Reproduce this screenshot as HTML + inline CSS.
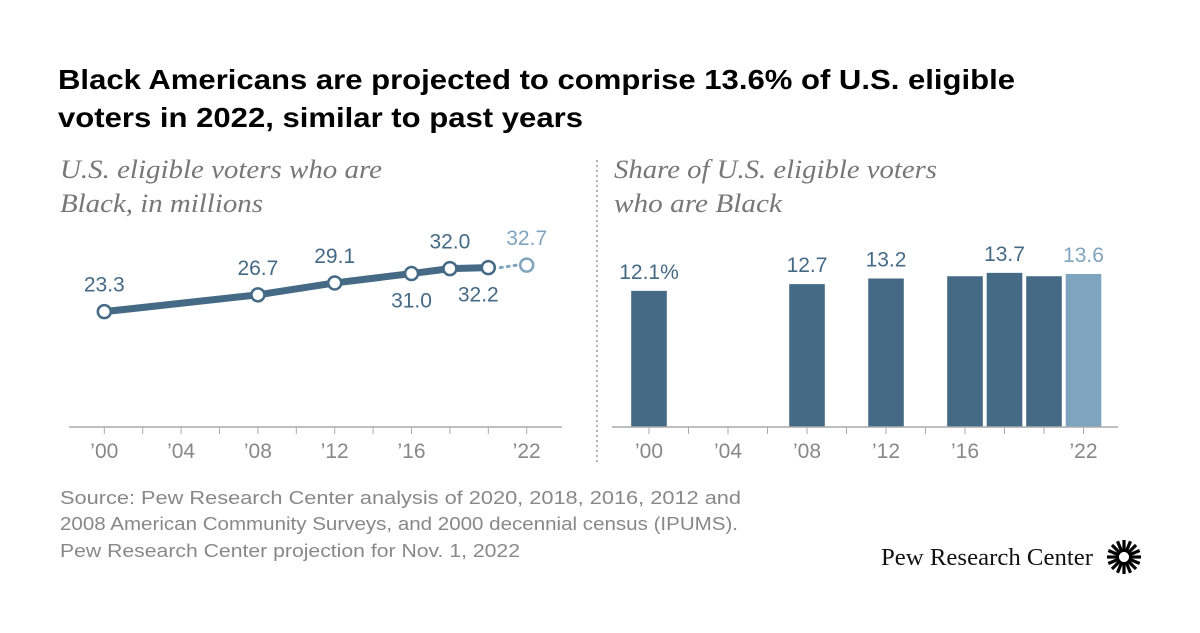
<!DOCTYPE html>
<html><head><meta charset="utf-8"><style>
body{margin:0;background:#fff;width:1200px;height:628px;overflow:hidden;font-family:"Liberation Sans",sans-serif}
</style></head><body>
<svg width="1200" height="628" xmlns="http://www.w3.org/2000/svg">
<g lengthAdjust="spacingAndGlyphs">
<text x="58" y="89" font-size="28" font-weight="bold" fill="#000" textLength="957" lengthAdjust="spacingAndGlyphs">Black Americans are projected to comprise 13.6% of U.S. eligible</text>
<text x="58" y="127" font-size="28" font-weight="bold" fill="#000" textLength="525" lengthAdjust="spacingAndGlyphs">voters in 2022, similar to past years</text>
</g>
<g font-family="Liberation Serif,serif" font-style="italic" font-size="26" fill="#777">
<text x="60" y="178" textLength="322" lengthAdjust="spacingAndGlyphs">U.S. eligible voters who are</text>
<text x="60" y="212" textLength="203" lengthAdjust="spacingAndGlyphs">Black, in millions</text>
<text x="614" y="178" textLength="323" lengthAdjust="spacingAndGlyphs">Share of U.S. eligible voters</text>
<text x="614" y="212" textLength="168" lengthAdjust="spacingAndGlyphs">who are Black</text>
</g>
<line x1="597" y1="160" x2="597" y2="462" stroke="#999" stroke-width="1.5" stroke-dasharray="2,3"/>
<g id="line-chart"></g>
<g id="bar-chart"></g>
<g font-size="18" fill="#888">
<text x="60" y="504" textLength="681" lengthAdjust="spacingAndGlyphs">Source: Pew Research Center analysis of 2020, 2018, 2016, 2012 and</text>
<text x="60" y="530" textLength="678" lengthAdjust="spacingAndGlyphs">2008 American Community Surveys, and 2000 decennial census (IPUMS).</text>
<text x="60" y="557" textLength="460" lengthAdjust="spacingAndGlyphs">Pew Research Center projection for Nov. 1, 2022</text>
</g>
<text x="881" y="565" font-family="Liberation Serif,serif" font-size="24" fill="#111" textLength="212" lengthAdjust="spacingAndGlyphs">Pew Research Center</text>
<g transform="translate(1124,557)" id="logo"></g>
</svg>
<script>
const NS="http://www.w3.org/2000/svg";
const lineYears=[2000,2008,2012,2016,2018,2020];
const lineValues=[23.3,26.7,29.1,31.0,32.0,32.2];
const lineLabels=["23.3","26.7","29.1","31.0","32.0","32.2"];
const projYear=[2022];
const projValue=[32.7];
const barYears=[2000,2008,2012,2016,2018,2020,2022];
const barValues=[12.1,12.7,13.2,13.4,13.7,13.4,13.6];
const barLabels=["12.1%","12.7","13.2","","13.7","","13.6"];
const tickYears=[2000,2004,2008,2012,2016,2022];
const tickLabels=["’00","’04","’08","’12","’16","’22"];
function mk(p,t,a){const e=document.createElementNS(NS,t);for(const k in a)e.setAttribute(k,a[k]);p.appendChild(e);return e;}
const dark="#456a85",light="#7fa4bf",grey="#888",FS=21;
// line chart
const L=document.getElementById('line-chart');
const lx=y=>104.3+(y-2000)*19.2, ly=v=>427-v*4.95;
let ax=mk(L,'line',{x1:69,y1:427,x2:562,y2:427,stroke:'#aaa','stroke-width':1.5});

for(let y=1998;y<=2022;y+=2){if(lx(y)<69)continue;const t=mk(L,'line',{x1:lx(y),y1:427,x2:lx(y),y2:434,stroke:'#aaa','stroke-width':1});
}
tickYears.forEach((y,i)=>{const t=mk(L,'text',{x:lx(y),y:458,'text-anchor':'middle','font-size':FS,fill:grey});t.textContent=tickLabels[i];
});
const last=lineYears.length-1;
let dl=mk(L,'line',{x1:lx(lineYears[last])+12,y1:ly(lineValues[last]),x2:lx(projYear[0])-10,y2:ly(projValue[0]),stroke:light,'stroke-width':3,'stroke-dasharray':'2,5','stroke-linecap':'round'});

let pl=mk(L,'polyline',{points:lineYears.map((y,i)=>lx(y)+','+ly(lineValues[i])).join(' '),fill:'none',stroke:dark,'stroke-width':7,'stroke-linejoin':'round'});

lineYears.forEach((y,i)=>{const c=mk(L,'circle',{cx:lx(y),cy:ly(lineValues[i]),r:6.5,fill:'#fff',stroke:dark,'stroke-width':2.5});

const below=(y===2016||y===2020);const tx=y===2020?lx(y)-10:lx(y);
const t=mk(L,'text',{x:tx,y:below?ly(lineValues[i])+34:ly(lineValues[i])-20,'text-anchor':'middle','font-size':FS,fill:dark});t.textContent=lineLabels[i];
});
let pc=mk(L,'circle',{cx:lx(projYear[0]),cy:ly(projValue[0]),r:6.5,fill:'#fff',stroke:light,'stroke-width':2.5});

let pt=mk(L,'text',{x:lx(projYear[0]),y:ly(projValue[0])-20,'text-anchor':'middle','font-size':FS,fill:light});pt.textContent=projValue[0].toFixed(1);

// bar chart
const B=document.getElementById('bar-chart');
const bx=y=>649+(y-2000)*19.75, by=v=>427-v*11.25;
barYears.forEach((y,i)=>{const r=mk(B,'rect',{x:bx(y)-17.8,y:by(barValues[i]),width:35.6,height:427-by(barValues[i]),fill:y===2022?light:dark});

if(barLabels[i]){const t=mk(B,'text',{x:bx(y),y:by(barValues[i])-12,'text-anchor':'middle','font-size':FS,fill:y===2022?light:dark});t.textContent=barLabels[i];
}});
let bax=mk(B,'line',{x1:612,y1:427,x2:1118,y2:427,stroke:'#aaa','stroke-width':1.5});

for(let y=2000;y<=2022;y+=2){const t=mk(B,'line',{x1:bx(y),y1:427,x2:bx(y),y2:434,stroke:'#aaa','stroke-width':1});
}
tickYears.forEach((y,i)=>{const t=mk(B,'text',{x:bx(y),y:458,'text-anchor':'middle','font-size':FS,fill:grey});t.textContent=tickLabels[i];
});
// logo
const G=document.getElementById('logo');
for(let k=0;k<16;k++){const a=k*Math.PI/8;const l=mk(G,'line',{x1:Math.cos(a)*5,y1:Math.sin(a)*5,x2:Math.cos(a)*17,y2:Math.sin(a)*17,stroke:'#000','stroke-width':3.2});
}
</script>
</body></html>
